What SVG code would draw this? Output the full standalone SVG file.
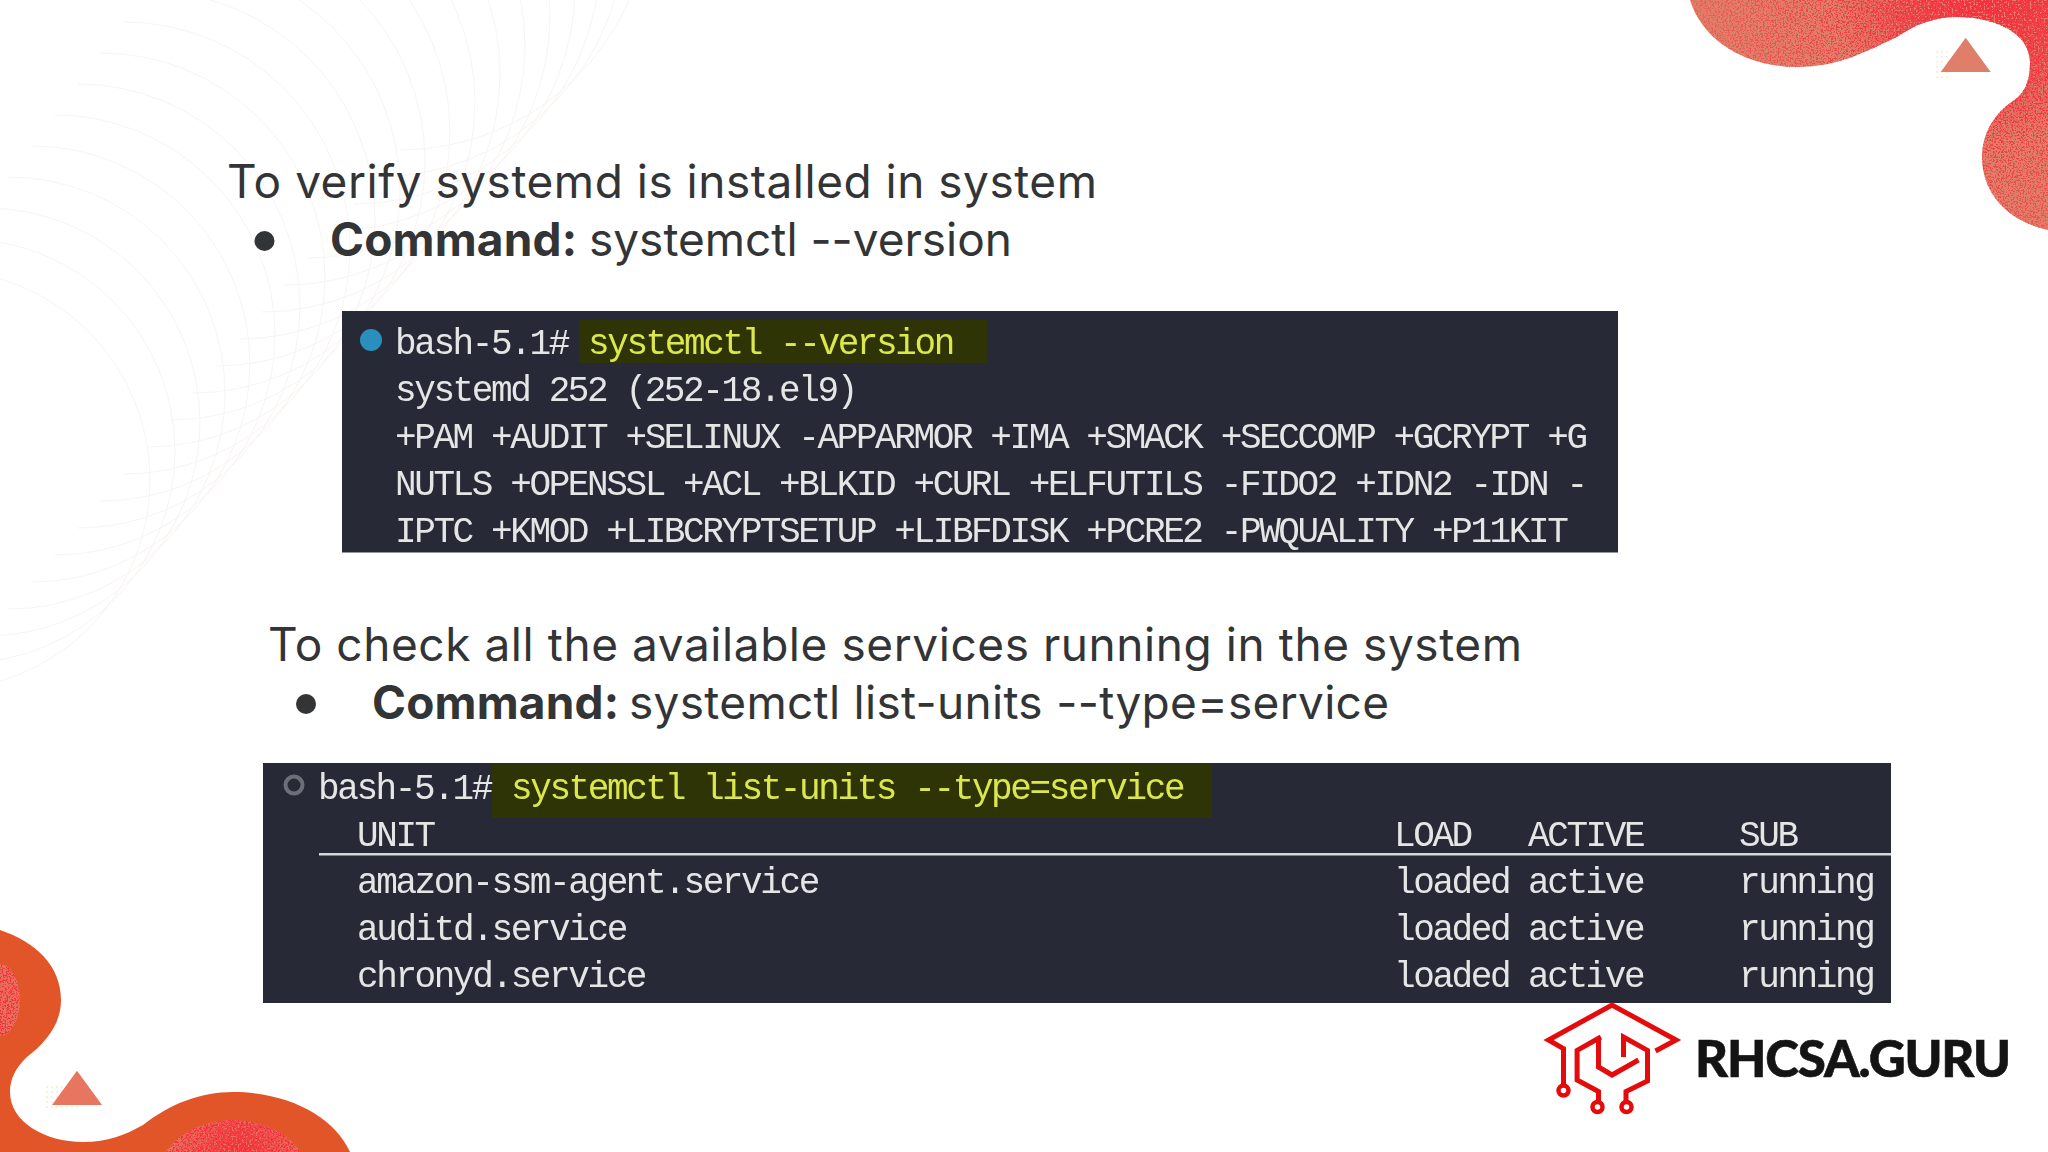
<svg xmlns="http://www.w3.org/2000/svg" width="2048" height="1152" viewBox="0 0 2048 1152">
<style>
.t{font-family:"Inter","Noto Sans","Liberation Sans",sans-serif;font-size:46px;fill:#333436}
.b{font-weight:700}
.m{font-family:"Liberation Mono","DejaVu Sans Mono",monospace;font-size:36px;letter-spacing:-2.4px;fill:#e4e6e6;filter:url(#soft)}
.y{fill:#dbe84c}
.term{fill:#272a36}
.hl{fill:#2e3405}
.lg{fill:none;stroke:#e30b0b;stroke-width:5}
.pin{fill:#fff;stroke:#e30b0b;stroke-width:4.5}
.w circle{fill:none;stroke:#f8f4f2;stroke-width:1;stroke-dasharray:1 2 1}
</style>
<defs>
<filter id="soft" x="-2%" y="-20%" width="104%" height="140%"><feGaussianBlur stdDeviation="0.55"/></filter>
<filter id="speck" x="0" y="0" width="100%" height="100%">
<feTurbulence type="fractalNoise" baseFrequency="0.6" numOctaves="2" seed="4"/>
<feColorMatrix type="matrix" values="0 0 0 0 0.9  0 0 0 0 0.03  0 0 0 0 0.05  0 0 0 10 -5"/>
</filter>
<filter id="speck2" x="0" y="0" width="100%" height="100%">
<feTurbulence type="fractalNoise" baseFrequency="0.5" numOctaves="2" seed="9"/>
<feColorMatrix type="matrix" values="0 0 0 0 0.9  0 0 0 0 0.03  0 0 0 0 0.05  0 0 0 10 -3.9"/>
</filter>
<radialGradient id="fadeTR" gradientUnits="userSpaceOnUse" cx="1990" cy="0" r="330">
<stop offset="0" stop-color="#fff"/><stop offset="0.35" stop-color="#fff" stop-opacity="0.9"/><stop offset="1" stop-color="#fff" stop-opacity="0.25"/>
</radialGradient>
<radialGradient id="redTR" gradientUnits="userSpaceOnUse" cx="1985" cy="-5" r="150">
<stop offset="0" stop-color="#fff"/><stop offset="0.5" stop-color="#fff" stop-opacity="0.7"/><stop offset="1" stop-color="#fff" stop-opacity="0"/>
</radialGradient>
<radialGradient id="redBL" gradientUnits="userSpaceOnUse" cx="240" cy="1155" r="70">
<stop offset="0" stop-color="#fff"/><stop offset="1" stop-color="#fff" stop-opacity="0"/>
</radialGradient>
<mask id="mTR"><rect x="1650" y="0" width="398" height="250" fill="url(#fadeTR)"/></mask>
<mask id="mTR2"><rect x="1830" y="0" width="218" height="150" fill="url(#redTR)"/></mask>
<mask id="mBL2"><rect x="160" y="1090" width="150" height="62" fill="url(#redBL)"/></mask>
<clipPath id="cTR"><path d="M1690 0C1702 40 1745 67 1797 67C1840 67 1868 50 1897 37C1915 24 1935 17 1957 17C2000 17 2030 36 2030 62C2030 85 2022 95 2013 101C1995 113 1982 133 1982 157C1982 195 2010 222 2048 230V0Z"/></clipPath>
<clipPath id="cBL"><ellipse cx="0" cy="1000" rx="20" ry="36"/><ellipse cx="233" cy="1175" rx="74" ry="55"/></clipPath>
<pattern id="dots" width="5" height="5" patternUnits="userSpaceOnUse"><circle cx="2" cy="2" r="0.9" fill="#f6ecc8"/></pattern>
</defs>
<rect width="2048" height="1152" fill="#fff"/>
<g id="waves" class="w">
<circle pathLength="4" cx="-60" cy="480" r="210"/><circle pathLength="4" cx="-37" cy="451" r="212"/><circle pathLength="4" cx="-14" cy="422" r="214"/><circle pathLength="4" cx="9" cy="393" r="216"/><circle pathLength="4" cx="32" cy="364" r="218"/><circle pathLength="4" cx="55" cy="335" r="220"/><circle pathLength="4" cx="78" cy="306" r="222"/><circle pathLength="4" cx="101" cy="277" r="224"/><circle pathLength="4" cx="124" cy="248" r="226"/><circle pathLength="4" cx="147" cy="219" r="228"/><circle pathLength="4" cx="170" cy="190" r="230"/><circle pathLength="4" cx="193" cy="161" r="232"/><circle pathLength="4" cx="216" cy="132" r="234"/><circle pathLength="4" cx="239" cy="103" r="236"/><circle pathLength="4" cx="262" cy="74" r="238"/><circle pathLength="4" cx="285" cy="45" r="240"/><circle pathLength="4" cx="308" cy="16" r="242"/><circle pathLength="4" cx="331" cy="-13" r="244"/><circle pathLength="4" cx="354" cy="-42" r="246"/><circle pathLength="4" cx="377" cy="-71" r="248"/><circle pathLength="4" cx="400" cy="-100" r="250"/>
</g>
<g id="blob-top-right">
<path d="M1690 0C1702 40 1745 67 1797 67C1840 67 1868 50 1897 37C1915 24 1935 17 1957 17C2000 17 2030 36 2030 62C2030 85 2022 95 2013 101C1995 113 1982 133 1982 157C1982 195 2010 222 2048 230V0Z" fill="#e07f69"/>
<g clip-path="url(#cTR)"><g mask="url(#mTR)"><rect x="1650" y="0" width="398" height="250" filter="url(#speck)"/></g><g mask="url(#mTR2)"><rect x="1830" y="0" width="218" height="150" filter="url(#speck2)"/></g></g>
<rect x="1933" y="50" width="16" height="28" fill="url(#dots)"/>
<polygon points="1965.7,37.7 1940.7,72 1990.7,72" fill="#e07f69"/>
</g>
<g id="blob-bottom-left">
<path d="M0 930C36 942 61 966 61 1000C61 1025 45 1043 27 1057C15 1068 10 1080 10 1092C10 1122 45 1142 83 1142C108 1142 125 1135 143 1125C170 1104 200 1092 233 1092C290 1092 335 1118 350 1152H0Z" fill="#e25528"/>
<ellipse cx="0" cy="1000" rx="20" ry="36" fill="#e8705a"/>
<ellipse cx="233" cy="1175" rx="74" ry="55" fill="#e8705a"/>
<g clip-path="url(#cBL)"><rect x="0" y="950" width="320" height="202" filter="url(#speck)"/><g mask="url(#mBL2)"><rect x="160" y="1090" width="150" height="62" filter="url(#speck2)"/></g></g>
<rect x="45" y="1083" width="35" height="27" fill="url(#dots)"/>
<polygon points="77,1070.7 52,1105 102,1105" fill="#e8755f"/>
</g>
<g id="heading-1">
<text class="t" x="227" y="197.5" textLength="870">To verify systemd is installed in system</text>
<circle cx="264.5" cy="241" r="10" fill="#333436"/>
<text class="t b" x="330" y="256" textLength="247">Command:</text>
<text class="t" x="589" y="256" textLength="423">systemctl --version</text>
</g>
<g id="terminal-1">
<rect class="term" x="342" y="311" width="1276" height="241.500"/>
<rect class="hl" x="579" y="320" width="408" height="43"/>
<circle cx="371" cy="340" r="11" fill="#2a8fbd"/>
<text class="m" x="395" y="354">bash-5.1#</text>
<text class="m y" x="588" y="354">systemctl --version</text>
<text class="m" x="395" y="401">systemd 252 (252-18.el9)</text>
<text class="m" x="395" y="448">+PAM +AUDIT +SELINUX -APPARMOR +IMA +SMACK +SECCOMP +GCRYPT +G</text>
<text class="m" x="395" y="495">NUTLS +OPENSSL +ACL +BLKID +CURL +ELFUTILS -FIDO2 +IDN2 -IDN -</text>
<text class="m" x="395" y="542">IPTC +KMOD +LIBCRYPTSETUP +LIBFDISK +PCRE2 -PWQUALITY +P11KIT</text>
</g>
<g id="heading-2">
<text class="t" x="268" y="661" textLength="1254">To check all the available services running in the system</text>
<circle cx="306" cy="704" r="10" fill="#333436"/>
<text class="t b" x="372" y="718.500" textLength="247">Command:</text>
<text class="t" x="629" y="718.500" textLength="760">systemctl list-units --type=service</text>
</g>
<g id="terminal-2">
<rect class="term" x="263" y="763" width="1628" height="240"/>
<rect class="hl" x="492" y="763" width="720" height="55"/>
<circle cx="294" cy="785" r="8.5" fill="none" stroke="#6b7078" stroke-width="4"/>
<text class="m" x="318" y="799">bash-5.1#</text>
<text class="m y" x="511" y="799">systemctl list-units --type=service</text>
<text class="m" x="357" y="846">UNIT</text><text class="m" x="1394" y="846">LOAD</text><text class="m" x="1528" y="846">ACTIVE</text><text class="m" x="1739" y="846">SUB</text>
<rect x="319" y="853" width="1572" height="2.5" fill="#d5d7da"/>
<text class="m" x="357" y="893">amazon-ssm-agent.service</text><text class="m" x="1394" y="893">loaded</text><text class="m" x="1528" y="893">active</text><text class="m" x="1739" y="893">running</text>
<text class="m" x="357" y="940">auditd.service</text><text class="m" x="1394" y="940">loaded</text><text class="m" x="1528" y="940">active</text><text class="m" x="1739" y="940">running</text>
<text class="m" x="357" y="987">chronyd.service</text><text class="m" x="1394" y="987">loaded</text><text class="m" x="1528" y="987">active</text><text class="m" x="1739" y="987">running</text>
</g>
<g id="logo">
<g transform="translate(-0.5 -3)">
<path class="lg" d="M1564 1088V1051.7L1549 1043L1612.5 1008L1676.5 1043L1656 1054"/>
<path class="lg" d="M1601.4 1040L1577.6 1053.4V1083L1599 1094.6V1106"/>
<path class="lg" d="M1599 1040V1070L1612.5 1078L1639 1063"/>
<path class="lg" d="M1624 1060V1040L1648 1053.4V1084L1626.5 1094.6V1106"/>
<circle class="pin" cx="1564" cy="1093.6" r="5"/><circle class="pin" cx="1598" cy="1110" r="5"/><circle class="pin" cx="1627" cy="1110" r="5"/>
</g>
<text x="1695" y="1077" textLength="316" style="font-family:Lato,Inter,'Liberation Sans',sans-serif;font-size:51px;font-weight:900;fill:#141414;stroke:#141414;stroke-width:0.6">RHCSA.GURU</text>
</g>
</svg>
